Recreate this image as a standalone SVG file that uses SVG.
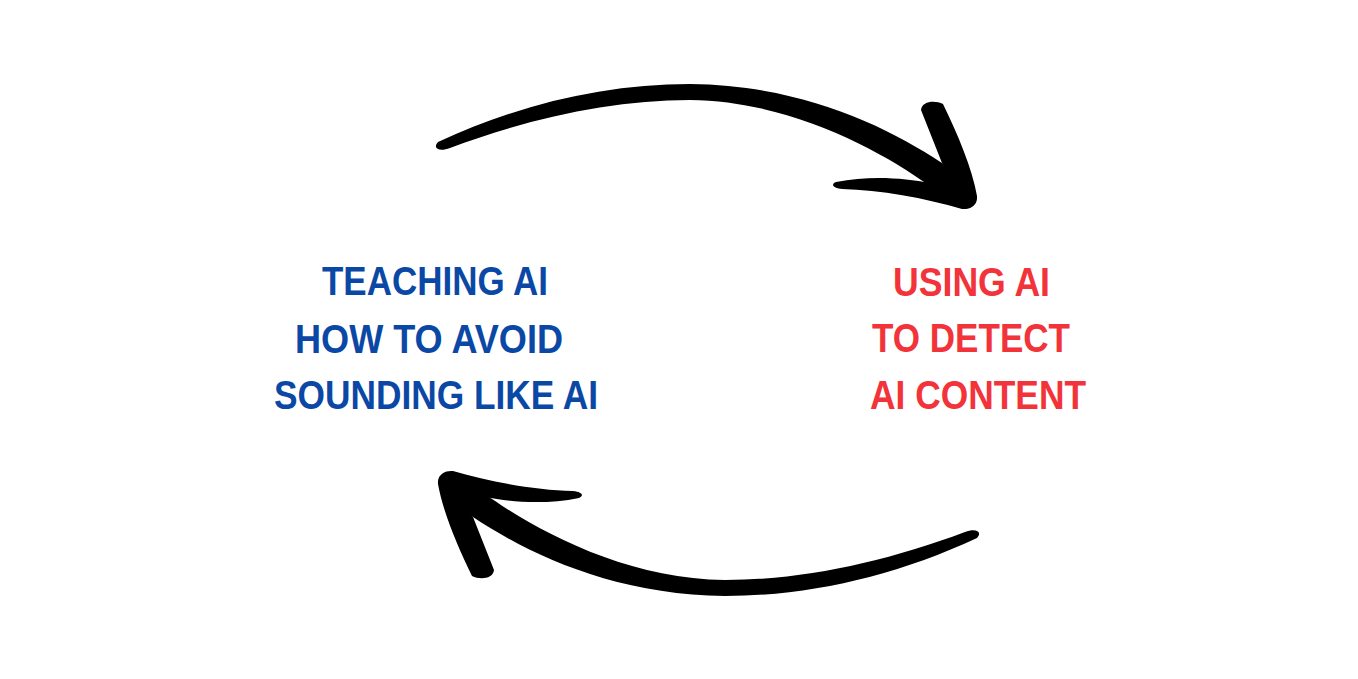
<svg xmlns="http://www.w3.org/2000/svg" width="1358" height="679" viewBox="0 0 1358 679">
<defs>
<style>
.lbl{font-family:"Liberation Sans","DejaVu Sans",sans-serif;font-weight:700;font-size:40px}
.blue{fill:#0b48a6}
.red{fill:#f2343a}
.ink{fill:#000}
</style>
<g id="curvedArrow">
<path class="ink" d="M438,142 C520,104 605,84 690,84 C800,85 885,125 942,163 L972,203 L930,186 C880,150 790,101 690,100 C612,100 530,118 450,148 C440,152 432,149 438,142 Z"/>
<path class="ink" d="M921,110 C922,101 935,100 943,104 C958,135 972,168 977,196 C978,207 968,210 962,205 C955,185 948,175 942,163 C935,145 928,128 921,110 Z"/>
<path class="ink" d="M836,182 C870,175 905,178 930,183 C945,187 958,192 970,197 C978,201 975,210 962,209 C925,198 880,190 842,189 C832,188 831,184 836,182 Z"/>
</g>
</defs>
<rect width="1358" height="679" fill="#fff"/>
<g id="connectors">
<use href="#curvedArrow"/>
<use href="#curvedArrow" transform="rotate(180 707.5 340)"/>
</g>
<g id="node-teaching">
<text class="lbl blue" x="322" y="295" textLength="226" lengthAdjust="spacingAndGlyphs">TEACHING AI</text>
<text class="lbl blue" x="295" y="353" textLength="268" lengthAdjust="spacingAndGlyphs">HOW TO AVOID</text>
<text class="lbl blue" x="274" y="409" textLength="324" lengthAdjust="spacingAndGlyphs">SOUNDING LIKE AI</text>
</g>
<g id="node-using">
<text class="lbl red" x="893" y="296" textLength="157" lengthAdjust="spacingAndGlyphs">USING AI</text>
<text class="lbl red" x="872" y="352" textLength="198" lengthAdjust="spacingAndGlyphs">TO DETECT</text>
<text class="lbl red" x="870" y="409" textLength="216" lengthAdjust="spacingAndGlyphs">AI CONTENT</text>
</g>
</svg>
